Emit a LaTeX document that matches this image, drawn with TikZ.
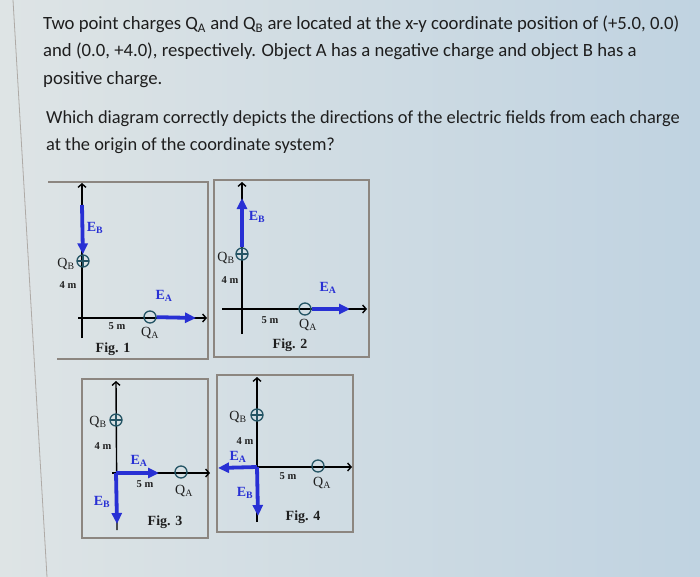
\documentclass[tikz,border=0pt]{standalone}
\usepackage{fontspec}
\setmainfont{Carlito}
\newfontfamily\figfont{Liberation Serif}
\usetikzlibrary{arrows.meta,positioning}

\definecolor{fieldblue}{RGB}{40,48,212}
\definecolor{chargeteal}{RGB}{36,84,100}
\definecolor{framegray}{RGB}{140,134,128}
\definecolor{inkgray}{RGB}{30,30,30}

\tikzset{
  axis/.style={line width=1.4pt, draw=black, -{Straight Barb[length=3.5pt,width=8pt]}},
  field/.style={line width=3.8pt, draw=fieldblue, -{Triangle[length=11pt,width=10pt]}},
  charge/.style={circle, draw=chargeteal, line width=1.3pt, minimum size=12pt, inner sep=0pt},
  poscharge/.style={charge, path picture={
      \draw[chargeteal, line width=1.1pt] (path picture bounding box.north) -- (path picture bounding box.south)
        (path picture bounding box.west) -- (path picture bounding box.east);}},
  frame/.style={draw=framegray, line width=1.5pt},
  prose/.style={anchor=base west, inner sep=0pt, text=inkgray, font=\fontsize{18.7}{20}\selectfont},
  question/.style={prose, font=\fontsize{18.4}{20}\selectfont},
  qlabel/.style={inner sep=0pt, text=inkgray, font=\figfont\fontsize{14}{14}\selectfont},
  elabel/.style={inner sep=0pt, text=fieldblue, font=\figfont\bfseries\fontsize{14}{14}\selectfont},
  dlabel/.style={inner sep=0pt, text=inkgray, font=\figfont\bfseries\fontsize{10.5}{10}\selectfont},
  figlabel/.style={inner sep=0pt, text=inkgray, font=\figfont\bfseries\fontsize{14}{14}\selectfont}
}

\begin{document}
\begin{tikzpicture}[x=1pt,y=-1pt]
        \useasboundingbox (0,0) rectangle (700,577);
        \shade[left color={rgb,255:red,222;green,228;blue,229}, right color={rgb,255:red,192;green,211;blue,225}] (0,0) rectangle (700,577);
        \draw[framegray!70, line width=0.8pt] (13,0) -- (47,577);

        \node[prose] at (43,30) (line1) {Two point charges Q\textsubscript{A} and Q\textsubscript{B} are located at the x-y coordinate position of (+5.0, 0.0)};
        \node[prose] at (43,57) (line2) {and (0.0, +4.0), respectively. Object A has a negative charge and object B has a};
        \node[prose] at (43,85) (line3) {positive charge.};
        \node[question] at (46,124) (line4) {Which diagram correctly depicts the directions of the electric fields from each charge};
        \node[question] at (46,151) (line5) {at the origin of the coordinate system?};

        % Fig. 1
        \draw[frame] (48,182) -- (208,182) -- (208,359) -- (57,359);
        \coordinate (y1b) at (82,338);
        \coordinate (y1t) at (82,183);
        \coordinate (x1l) at (78,318);
        \coordinate (x1r) at (207,318);
        \draw[axis] (y1b) -- (y1t);
        \draw[axis] (x1l) -- (x1r);
        \node[poscharge] at (83,261) (qb1) {};
        \node[charge] at (150,317) (qa1) {};
        \coordinate (eb1s) at (82,205);
        \coordinate (ea1e) at (196,318);
        \draw[field] (eb1s) -- (qb1);
        \draw[field] (qa1) -- (ea1e);
        \node[qlabel] at (66,264) (qb1l) {Q\textsubscript{B}};
        \node[elabel] at (95,228) (eb1l) {E\textsubscript{B}};
        \node[dlabel] at (68,285) (d1y) {4 m};
        \node[elabel] at (164,296) (ea1l) {E\textsubscript{A}};
        \node[dlabel] at (117,326) (d1x) {5 m};
        \node[qlabel] at (150,333) (qa1l) {Q\textsubscript{A}};
        \node[figlabel] at (113,349) (fig1) {Fig. 1};

        % Fig. 2
        \draw[frame] (214,180) rectangle (369,357);
        \coordinate (y2b) at (242,334);
        \coordinate (y2t) at (242,182);
        \coordinate (x2l) at (222,309);
        \coordinate (x2r) at (367,309);
        \draw[axis] (y2b) -- (y2t);
        \draw[axis] (x2l) -- (x2r);
        \node[poscharge] at (242,254) (qb2) {};
        \node[charge] at (305,309) (qa2) {};
        \coordinate (eb2e) at (242,198);
        \coordinate (ea2e) at (350,309);
        \draw[field] (qb2) -- (eb2e);
        \draw[field] (qa2) -- (ea2e);
        \node[qlabel] at (226,258) (qb2l) {Q\textsubscript{B}};
        \node[elabel] at (257,217) (eb2l) {E\textsubscript{B}};
        \node[dlabel] at (230,280) (d2y) {4 m};
        \node[elabel] at (328,288) (ea2l) {E\textsubscript{A}};
        \node[dlabel] at (270,320) (d2x) {5 m};
        \node[qlabel] at (308,325) (qa2l) {Q\textsubscript{A}};
        \node[figlabel] at (290,345) (fig2) {Fig. 2};

        % Fig. 3
        \draw[frame] (82,379) rectangle (208,538);
        \coordinate (o3) at (116,473);
        \coordinate (y3b) at (117,530);
        \coordinate (y3t) at (116,381);
        \coordinate (x3l) at (112,473);
        \coordinate (x3r) at (210,473);
        \draw[axis] (y3b) -- (y3t);
        \draw[axis] (x3l) -- (x3r);
        \node[poscharge] at (116,420) (qb3) {};
        \node[charge] at (181,472) (qa3) {};
        \coordinate (ea3e) at (159,473);
        \coordinate (eb3e) at (117,524);
        \draw[field] (o3) -- (ea3e);
        \draw[field] (o3) -- (eb3e);
        \node[qlabel] at (98,422) (qb3l) {Q\textsubscript{B}};
        \node[dlabel] at (103,446) (d3y) {4 m};
        \node[elabel] at (139,461) (ea3l) {E\textsubscript{A}};
        \node[dlabel] at (145,484) (d3x) {5 m};
        \node[qlabel] at (184,491) (qa3l) {Q\textsubscript{A}};
        \node[elabel] at (102,502) (eb3l) {E\textsubscript{B}};
        \node[figlabel] at (165,522) (fig3) {Fig. 3};

        % Fig. 4
        \draw[frame] (217,375) rectangle (353,532);
        \coordinate (o4) at (257,467);
        \coordinate (y4b) at (257,522);
        \coordinate (y4t) at (257,377);
        \coordinate (x4l) at (225,467);
        \coordinate (x4r) at (352,467);
        \draw[axis] (y4b) -- (y4t);
        \draw[axis] (x4l) -- (x4r);
        \node[poscharge] at (257,415) (qb4) {};
        \node[charge] at (318,466) (qa4) {};
        \coordinate (ea4e) at (218,468);
        \coordinate (eb4e) at (258,516);
        \draw[field] (o4) -- (ea4e);
        \draw[field] (o4) -- (eb4e);
        \node[qlabel] at (238,417) (qb4l) {Q\textsubscript{B}};
        \node[dlabel] at (245,441) (d4y) {4 m};
        \node[elabel] at (238,457) (ea4l) {E\textsubscript{A}};
        \node[dlabel] at (288,476) (d4x) {5 m};
        \node[qlabel] at (322,483) (qa4l) {Q\textsubscript{A}};
        \node[elabel] at (245,493) (eb4l) {E\textsubscript{B}};
        \node[figlabel] at (303,517) (fig4) {Fig. 4};
\end{tikzpicture}
\end{document}
